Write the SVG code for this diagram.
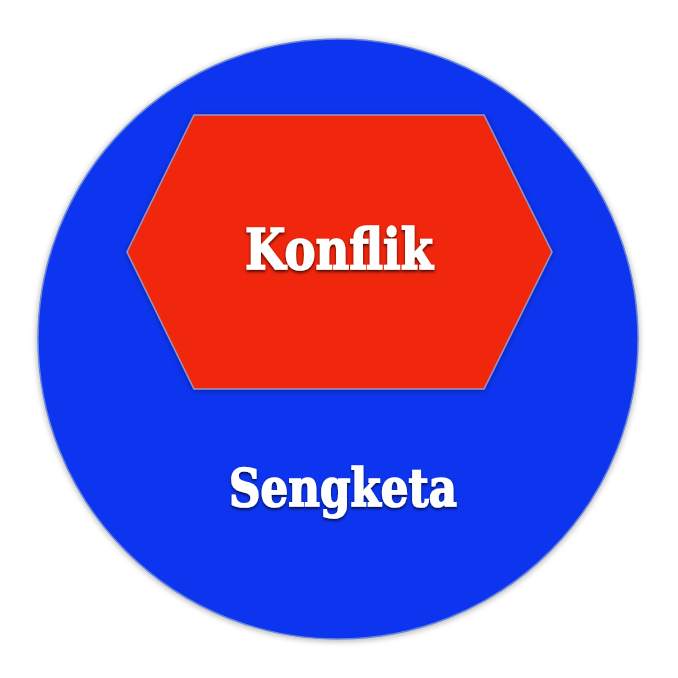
<svg xmlns="http://www.w3.org/2000/svg" width="678" height="678" viewBox="0 0 678 678">
<defs>
<filter id="shadow" x="-10%" y="-10%" width="120%" height="120%">
<feGaussianBlur in="SourceAlpha" stdDeviation="3"/>
<feOffset dx="0" dy="1"/>
<feComponentTransfer><feFuncA type="linear" slope="0.35"/></feComponentTransfer>
<feMerge><feMergeNode/><feMergeNode in="SourceGraphic"/></feMerge>
</filter>
<filter id="tshadow" x="-10%" y="-20%" width="120%" height="140%">
<feGaussianBlur in="SourceAlpha" stdDeviation="1.5"/>
<feOffset dx="0" dy="1.5"/>
<feComponentTransfer><feFuncA type="linear" slope="0.7"/></feComponentTransfer>
<feMerge><feMergeNode/><feMergeNode in="SourceGraphic"/></feMerge>
</filter>
</defs>
<style>
.lbl{font-family:"DejaVu Serif","Liberation Serif",serif;font-weight:bold;fill:#ffffff;stroke:#ffffff;stroke-width:1.6;text-anchor:middle;filter:url(#tshadow)}
</style>
<rect width="678" height="678" fill="#ffffff"/>
<g id="sengketa">
<circle cx="338" cy="339" r="300" fill="#1034f0" stroke="#6a86d6" stroke-width="1.5" filter="url(#shadow)"/>
<text class="lbl" x="343" y="506" font-size="52" textLength="228" lengthAdjust="spacingAndGlyphs">Sengketa</text>
</g>
<g id="konflik">
<polygon points="194,115 484,115 552,252 484,389 194,389 127,252" fill="#f02808" stroke="#9a94c4" stroke-width="1.5" filter="url(#shadow)"/>
<text class="lbl" x="339" y="269" font-size="56" textLength="188" lengthAdjust="spacingAndGlyphs">Konflik</text>
</g>
<g id="connectors"/>
</svg>
